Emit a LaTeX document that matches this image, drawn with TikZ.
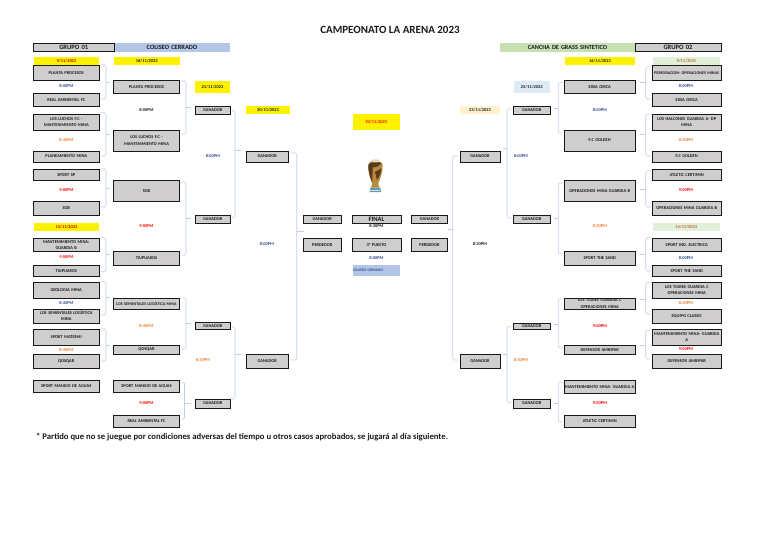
\documentclass[tikz,border=0pt]{standalone}
\usepackage{fontspec}
\setmainfont{Carlito}
\definecolor{boxgray}{HTML}{CFCDCD}
\definecolor{linkblue}{HTML}{BFCFEA}
\definecolor{bandblue}{HTML}{B4C6E7}
\definecolor{bandgreen}{HTML}{C6E0B4}
\definecolor{palegreen}{HTML}{E2EFDA}
\definecolor{paleblue}{HTML}{DDEBF7}
\definecolor{cream}{HTML}{FFF2CC}
\definecolor{navy}{HTML}{2F4A8C}
\definecolor{orangetime}{HTML}{ED7D31}
\definecolor{txt}{HTML}{1A1A1A}
\definecolor{cupdark}{HTML}{5A3A1E}
\definecolor{cupgold}{HTML}{B98A3C}
\definecolor{cuplight}{HTML}{E8D9B8}
\definecolor{cupblue}{HTML}{5E9DB5}
\tikzset{
 cell/.style={inner sep=0pt,outer sep=0pt,align=center,text=txt,font=\bfseries\fontsize{4.4}{6.2}\selectfont},
 team/.style={cell,draw=black!90,line width=1pt,fill=boxgray},
 datebox/.style={cell,fill=yellow},
 timelabel/.style={inner sep=0pt,outer sep=0pt,align=center,font=\bfseries\fontsize{4.4}{6}\selectfont},
 link/.style={draw=linkblue,line width=0.6pt,rounded corners=1.5pt},
}
% name, style, x0, y0, x1, y1, text
\newcommand{\cellbox}[7]{\node[#2,minimum width={(#5-#3)*1pt},minimum height={(#6-#4)*1pt},text width={(#5-#3-0.5)*1pt}] (#1) at ({(#3+#5)/2},{(#4+#6)/2}) {#7};}
% name, colour, x, y, text
\newcommand{\tm}[5]{\node[timelabel,text=#2] (#1) at (#3,#4) {#5};}
% out anchor, in anchor, a, b, c, xv, ytop, ybot, gap (tip height in \tipy)
\newcommand{\brk}[9]{\draw[link,shorten <=2pt,shorten >=2pt] (#3.#1 |- 0,#7) -- (#6,#7) -- (#6,#8) -- (#4.#1 |- 0,#8);
  \draw[link,shorten >=#9pt] (#6,\tipy) -- (#5.#2 |- 0,\tipy);}
\begin{document}
\begin{tikzpicture}[x=1pt,y=-1pt]
\useasboundingbox (0,0) rectangle (768,543);
\fill[white] (0,0) rectangle (768,543);
\node[cell,font=\bfseries\fontsize{11}{12}\selectfont] (title) at (390,30) {CAMPEONATO LA ARENA 2023};

% header
\cellbox{bandl}{cell,fill=bandblue,font=\bfseries\fontsize{6.4}{7}\selectfont}{114}{43}{230}{52}{COLISEO CERRADO}
\cellbox{bandr}{cell,fill=bandgreen,font=\bfseries\fontsize{6.2}{7}\selectfont}{500}{43}{635}{52}{CANCHA DE GRASS SINTETICO}
\cellbox{grupoa}{team,font=\bfseries\fontsize{6.6}{7}\selectfont}{33.5}{43.5}{114}{52}{GRUPO 01}
\cellbox{grupob}{team,font=\bfseries\fontsize{6.6}{7}\selectfont}{635}{43.5}{721}{52}{GRUPO 02}

% left column 1
\cellbox{da1}{datebox,text=red!75!black}{34}{57.5}{99}{65}{9/11/2023}
\cellbox{a1}{team}{33.5}{65.5}{99}{80.5}{PLANTA PROCESOS}
\tm{ta1}{navy}{66.5}{86}{8:00PM}
\cellbox{a2}{team}{33.5}{93.5}{99}{106.5}{REAL AMBIENTAL FC}
\cellbox{a3}{team}{33.5}{114.5}{99}{130}{LOS LUCHOS F.C -\\MANTENIMIENTO MINA}
\tm{ta2}{orangetime}{66.5}{140}{8:30PM}
\cellbox{a4}{team}{33.5}{151}{99}{162}{PLANEAMIENTO MINA}
\cellbox{a5}{team}{33.5}{169.5}{99}{180.5}{SPORT SP}
\tm{ta3}{red}{66.5}{190}{9:00PM}
\cellbox{a6}{team}{33.5}{201.5}{99}{215}{SGB}
\cellbox{da2}{datebox,text=red!75!black}{34}{222.5}{99}{231}{14/11/2023}
\cellbox{a7}{team}{33.5}{238}{99}{251.5}{MANTENIMIENTO MINA:\\GUARDIA B}
\tm{ta4}{red}{66.5}{257.5}{9:00PM}
\cellbox{a8}{team}{33.5}{265.5}{99}{276.5}{TIUPUAKOS}
\cellbox{a9}{team}{33.5}{282}{99}{298}{GEOLOGIA MINA}
\tm{ta5}{navy}{66.5}{303}{8:30PM}
\cellbox{a10}{team}{33.5}{309}{99}{323}{LOS SEMENTALES LOGÍSTICA\\MINA}
\cellbox{a11}{team}{33.5}{329}{99}{345.5}{SPORT MATESMI}
\tm{ta6}{orangetime}{66.5}{349.5}{8:30PM}
\cellbox{a12}{team}{33.5}{354.5}{99}{368.5}{QOSQAR}
\cellbox{a13}{team}{33.5}{380}{99}{392}{SPORT MANEJO DE AGUAS}

% left column 2
\cellbox{db1}{datebox}{113.5}{57.5}{180}{65.5}{16/11/2023}
\cellbox{b1}{team}{113.5}{80.5}{179.5}{93.5}{PLANTA PROCESOS}
\tm{tb1}{txt}{146.5}{110}{8:00PM}
\cellbox{b2}{team}{113.5}{130}{179.5}{151}{LOS LUCHOS F.C -\\MANTENIMIENTO MINA}
\cellbox{b3}{team}{113.5}{180.5}{179.5}{201.5}{SGB}
\tm{tb2}{red}{146.5}{226}{9:00PM}
\cellbox{b4}{team}{113.5}{251}{179.5}{265.5}{TIUPUAKOS}
\cellbox{b5}{team,font=\bfseries\fontsize{4.1}{6.2}\selectfont}{113.5}{298}{179.5}{309}{LOS SEMENTALES LOGÍSTICA MINA}
\tm{tb3}{orangetime}{146.5}{326}{8:30PM}
\cellbox{b6}{team}{113.5}{345.5}{179.5}{354}{QOSQAR}
\cellbox{b7}{team}{113.5}{380.5}{179.5}{392.5}{SPORT MANEJO DE AGUAS}
\tm{tb4}{red}{146.5}{403}{9:00PM}
\cellbox{b8}{team}{113.5}{415}{179.5}{427}{REAL AMBIENTAL FC}

% left column 3
\cellbox{dc1}{datebox}{195}{81}{230}{93}{21/11/2023}
\cellbox{c1}{team}{195.5}{106.5}{230}{114.5}{GANADOR}
\tm{tc1}{navy}{213}{156}{8:00PM}
\cellbox{c2}{team}{195.5}{215}{230}{223}{GANADOR}
\cellbox{c3}{team}{195.5}{322.5}{230}{329}{GANADOR}
\tm{tc2}{orangetime}{203}{360}{8:30PM}
\cellbox{c4}{team}{195.5}{399}{230}{408}{GANADOR}

% left column 4
\cellbox{dd1}{datebox}{246}{106}{290}{114}{20/11/2023}
\cellbox{d1}{team}{246}{151}{288.5}{162}{GANADOR}
\tm{td1}{navy}{267}{244}{8:00PM}
\cellbox{d2}{team}{246}{354}{288.5}{368.5}{GANADOR}

% centre
\cellbox{dz}{datebox,text=red}{352.5}{114}{400}{130}{30/11/2023}
\cellbox{e1}{team}{303.5}{215}{341}{223}{GANADOR}
\cellbox{e2}{team}{303.5}{238}{341}{251.5}{PERDEDOR}
\cellbox{z1}{team,font=\bfseries\fontsize{6.6}{7}\selectfont}{352}{215}{401}{223}{FINAL}
\tm{tz1}{txt}{376.5}{226}{8:30PM}
\cellbox{z2}{team}{352}{238}{401}{251.5}{3° PUESTO}
\tm{tz2}{navy}{376.5}{257.5}{8:00PM}
\node[cell,fill=bandblue,minimum width=47.5pt,minimum height=11pt,text width=46.5pt,align=left,text=navy,font=\bfseries\fontsize{3.8}{5}\selectfont] (zc) at (376.25,270.5) {COLISEO CERRADO};
\cellbox{f1}{team}{411.5}{215}{447.5}{223}{GANADOR}
\cellbox{f2}{team}{411.5}{238}{447.5}{251.5}{PERDEDOR}

% trophy
\fill[cupgold] (368.3,165) .. controls (368,173) and (370.5,179) .. (372.3,184) -- (378,184) .. controls (380.5,178) and (382.8,172) .. (382.6,165) .. controls (382,160) and (369,160) .. (368.3,165) -- cycle;
\fill[cupdark] (368.3,165) .. controls (368.2,172) and (370,177) .. (372,182) .. controls (373,176) and (372,171) .. (373,167) .. controls (376,168) and (379,166) .. (381.5,163) .. controls (377,161) and (370,161) .. (368.3,165) -- cycle;
\fill[cuplight] (370,161.5) .. controls (372,158.4) and (378,158.4) .. (380.8,161.5) .. controls (377,162.8) and (373,162.8) .. (370,161.5) -- cycle;
\fill[cupdark] (375,172) .. controls (378,170) and (381,169) .. (381.5,168) .. controls (381,174) and (379,177) .. (377,180) -- cycle;
\fill[cupgold] (372.3,184) -- (378,184) -- (379.5,187.5) -- (371,187.5) -- cycle;
\fill[cupblue] (370.3,187.5) -- (380.3,187.5) -- (381,192) -- (369.6,192) -- cycle;
\fill[cuplight] (370.3,189.5) rectangle (380.3,190.2);

% right column 4
\cellbox{dg1}{datebox,fill=cream}{460}{106}{500}{114}{23/11/2023}
\cellbox{g1}{team}{460}{151}{500}{162}{GANADOR}
\tm{tg1}{txt}{480}{244}{8:30PM}
\cellbox{g2}{team}{460}{354}{500}{368.5}{GANADOR}

% right column 3
\cellbox{dh1}{datebox,fill=paleblue}{513.5}{81}{550}{93}{25/11/2023}
\cellbox{h1}{team}{513.5}{106.5}{550}{114.5}{GANADOR}
\tm{th1}{navy}{521}{156}{8:00PM}
\cellbox{h2}{team}{513.5}{215}{550}{223}{GANADOR}
\cellbox{h3}{team}{513.5}{323}{550}{329.5}{GANADOR}
\tm{th2}{orangetime}{521}{360}{8:30PM}
\cellbox{h4}{team}{513.5}{399}{550}{408}{GANADOR}

% right column 2
\cellbox{di1}{datebox}{565}{57.5}{635}{65.5}{16/11/2023}
\cellbox{i1}{team}{564.5}{80.5}{635}{93.5}{EXSA ORICA}
\tm{ti1}{navy}{600}{110}{8:00PM}
\cellbox{i2}{team}{564.5}{130}{635}{151}{F.C GOLDEN}
\cellbox{i3}{team}{564.5}{180.5}{635}{201.5}{OPERACIONES MINA GUARDIA B}
\tm{ti2}{orangetime}{600}{226}{8:30PM}
\cellbox{i4}{team}{564.5}{251}{635}{265.5}{SPORT THE SAND}
\cellbox{i5}{team}{564.5}{298}{635}{309}{LOS TIGRES GUARDIA C\\OPERACIONES MINA}
\tm{ti3}{red}{600}{326}{9:00PM}
\cellbox{i6}{team}{564.5}{345.5}{635}{354}{DEFENSOR AMBIPAR}
\cellbox{i7}{team}{564.5}{380.5}{635}{393}{MANTENIMIENTO MINA- GUARDIA A}
\tm{ti4}{red}{600}{403}{9:00PM}
\cellbox{i8}{team}{564.5}{415}{635}{427}{ATLETIC CERTIMIN}

% right column 1
\cellbox{dj1}{datebox,fill=palegreen,text=orangetime!80!black}{652.5}{57.5}{720}{65}{9/11/2023}
\cellbox{j1}{team,font=\bfseries\fontsize{4.1}{6.2}\selectfont}{652.5}{65.5}{721}{80.5}{PERFORACION- OPERACIONES MINAS}
\tm{tj1}{navy}{686}{86}{8:00PM}
\cellbox{j2}{team}{652.5}{93.5}{721}{106.5}{EXSA ORICA}
\cellbox{j3}{team}{652.5}{114.5}{721}{130}{LOS  HALCONES GUARDIA A- DP\\MINA}
\tm{tj2}{orangetime}{686}{140}{8:30PM}
\cellbox{j4}{team}{652.5}{151}{721}{162}{F.C GOLDEN}
\cellbox{j5}{team}{652.5}{169.5}{721}{180.5}{ATLETIC CERTIMIN}
\tm{tj3}{red}{686}{190}{9:00PM}
\cellbox{j6}{team}{652.5}{201.5}{721}{215}{OPERACIONES MINA GUARDIA B}
\cellbox{dj2}{datebox,fill=palegreen,text=orangetime!80!black}{652.5}{222.5}{720}{231}{14/11/2023}
\cellbox{j7}{team}{652.5}{238}{721}{251.5}{SPORT IND.  ELECTRICA}
\tm{tj4}{navy}{686}{257.5}{8:00PM}
\cellbox{j8}{team}{652.5}{265.5}{721}{276.5}{SPORT THE SAND}
\cellbox{j9}{team}{652.5}{282}{721}{298}{LOS TIGRES GUARDIA C\\OPERACIONES MINA}
\tm{tj5}{orangetime}{686}{303}{8:30PM}
\cellbox{j10}{team}{652.5}{309}{721}{323}{EQUIPO CLASSIC}
\cellbox{j11}{team}{652.5}{329}{721}{345.5}{MANTENIMIENTO MINA- GUARDIA\\A}
\tm{tj6}{red}{686}{349.5}{9:00PM}
\cellbox{j12}{team}{652.5}{354.5}{721}{368.5}{DEFENSOR AMBIPAR}

% connectors, left half
\def\tipy{82}\brk{east}{west}{a1}{a2}{b1}{106}{65}{99}{4}
\def\tipy{134.3}\brk{east}{west}{a3}{a4}{b2}{106}{112.7}{156}{4}
\def\tipy{188}\brk{east}{west}{a5}{a6}{b3}{106}{169}{207}{4}
\def\tipy{254}\brk{east}{west}{a7}{a8}{b4}{106}{237.7}{271.7}{4}
\def\tipy{297.7}\brk{east}{west}{a9}{a10}{b5}{106}{281.7}{315}{4}
\def\tipy{345}\brk{east}{west}{a11}{a12}{b6}{106}{329}{361}{4}
\def\tipy{107.5}\brk{east}{west}{b1}{b2}{c1}{186}{81}{134}{5}
\def\tipy{218.7}\brk{east}{west}{b3}{b4}{c2}{186}{182}{255}{5}
\def\tipy{323}\brk{east}{west}{b5}{b6}{c3}{186}{298}{349}{5}
\def\tipy{403}\brk{east}{west}{b7}{b8}{c4}{184.5}{382}{419}{5}
\def\tipy{150.5}\brk{east}{west}{c1}{c2}{d1}{235}{110.7}{217.7}{5}
\def\tipy{354}\brk{east}{west}{c3}{c4}{d2}{235}{327}{399}{5}
\def\tipy{231}\brk{east}{west}{d1}{d2}{e1}{296.7}{153}{360}{0}

% connectors, right half
\def\tipy{82.7}\brk{west}{east}{j1}{j2}{i1}{645.7}{67}{99}{5}
\def\tipy{134}\brk{west}{east}{j3}{j4}{i2}{645.7}{114}{156}{5}
\def\tipy{189}\brk{west}{east}{j5}{j6}{i3}{645.7}{171}{207}{5}
\def\tipy{254}\brk{west}{east}{j7}{j8}{i4}{645.7}{237.7}{271}{5}
\def\tipy{299}\brk{west}{east}{j9}{j10}{i5}{645.7}{282.7}{314}{5}
\def\tipy{345}\brk{west}{east}{j11}{j12}{i6}{645.7}{330}{359}{5}
\def\tipy{108}\brk{west}{east}{i1}{i2}{h1}{558.3}{82.7}{133}{4}
\def\tipy{218}\brk{west}{east}{i3}{i4}{h2}{558.3}{183}{254}{4}
\def\tipy{324}\brk{west}{east}{i5}{i6}{h3}{558.3}{299}{348}{4}
\def\tipy{403}\brk{west}{east}{i7}{i8}{h4}{558.3}{382}{422}{4}
\def\tipy{148}\brk{west}{east}{h1}{h2}{g1}{507}{109}{218}{3}
\def\tipy{354}\brk{west}{east}{h3}{h4}{g2}{507}{326.7}{402.7}{3}
\def\tipy{229}\brk{west}{east}{g1}{g2}{f1}{452.7}{156}{360}{0}

\node[anchor=west,inner sep=0pt,text=txt,font=\bfseries\fontsize{8.66}{10}\selectfont] (note) at (36,437.5) {* Partido que no se juegue por condiciones adversas del tiempo u otros casos aprobados, se jugará al día siguiente.};
\end{tikzpicture}
\end{document}
